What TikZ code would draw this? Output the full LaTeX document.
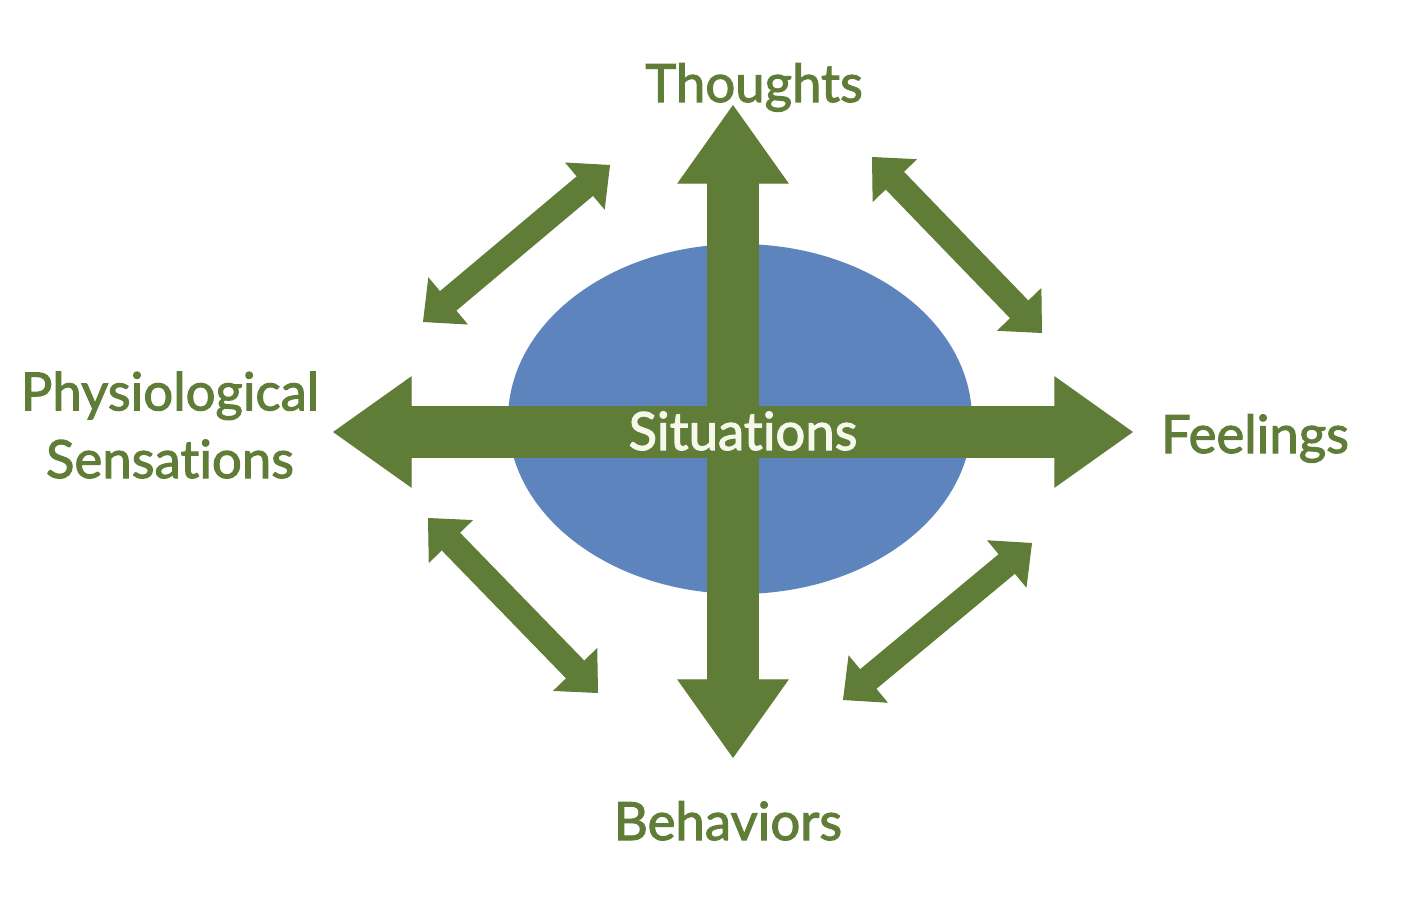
\documentclass[tikz,border=0pt]{standalone}
\usepackage{fontspec}
\setmainfont{Lato}[Ligatures={NoCommon,NoRare,NoContextual}]
\newfontfamily\lblfont{Lato}[FakeBold=2, Ligatures={NoCommon,NoRare,NoContextual}]
\usetikzlibrary{arrows.meta,shapes.geometric}
\definecolor{grn}{RGB}{95,125,54}
\definecolor{blu}{RGB}{94,132,189}
\definecolor{txtg}{RGB}{96,125,56}
\definecolor{sitw}{RGB}{245,248,235}
\begin{document}
\begin{tikzpicture}[x=0.02cm,y=-0.02cm,
  bighead/.tip={Triangle[length=44.8pt 0 0, width=63.5pt 0 0, line width=0.8pt 0 0]},
  smallhead/.tip={Triangle[length=18.7pt 0 0, width=35pt 0 0, line width=0.6pt 0 0]},
  bigarrow/.style={draw=grn, fill=grn, line width=30pt, bighead-bighead},
  smallarrow/.style={draw=grn, fill=grn, line width=14.5pt, smallhead-smallhead},
  lbl/.style={text=txtg, inner sep=0pt, anchor=base, font=\lblfont\fontsize{30}{38.5}\selectfont, align=center},
  sit/.style={text=sitw, inner sep=0pt, anchor=base, font=\lblfont\fontsize{30}{38}\selectfont}
]
\useasboundingbox (0,0) rectangle (1405,922);
\fill[white] (0,0) rectangle (1405,922);
% ellipse
\node[ellipse, fill=blu, minimum width=9.28cm, minimum height=7cm, inner sep=0pt] (ell) at (740,419) {};
% main arrow tips
\coordinate (up) at (733,105);
\coordinate (down) at (733,758);
\coordinate (left) at (333,432);
\coordinate (right) at (1133,432);
\draw[bigarrow] (left) -- (right);
\draw[bigarrow] (down) -- (up);
% diagonal arrows
\coordinate (tl1) at (423,322);
\coordinate (tl2) at (610,165);
\coordinate (tr1) at (872,157);
\coordinate (tr2) at (1042,333);
\coordinate (bl1) at (428,518);
\coordinate (bl2) at (598,693);
\coordinate (br1) at (1032,543);
\coordinate (br2) at (843,700);
\draw[smallarrow] (tl1) -- (tl2);
\draw[smallarrow] (tr1) -- (tr2);
\draw[smallarrow] (bl1) -- (bl2);
\draw[smallarrow] (br1) -- (br2);
% labels
\node[sit] (situations) at (743,450) {Situations};
\node[lbl] (thoughts) at (754,102) {Thoughts};
\node[lbl] (feelings) at (1255,453) {Feelings};
\node[lbl] (behaviors) at (728,840) {Behaviors};
\node[lbl] (phys) at (170,478) {Physiological\\Sensations};
\end{tikzpicture}
\end{document}
